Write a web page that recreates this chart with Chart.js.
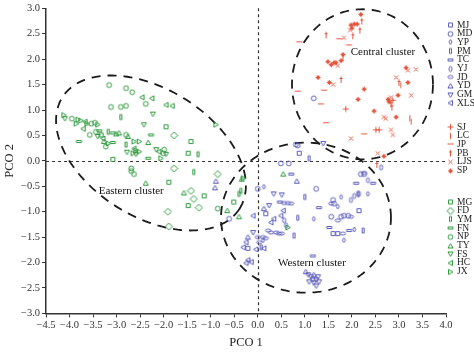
<!DOCTYPE html>
<html>
<head>
<meta charset="utf-8">
<script src="https://cdn.jsdelivr.net/npm/chart.js@4.4.0/dist/chart.umd.min.js"></script>
<style>
  html, body { margin: 0; padding: 0; background: #fff; }
</style>
</head>
<body>
<canvas id="pco" width="474" height="352"></canvas>
<script>
// Western cluster populations (blue)
const MJ  = [[0.88,0.15],[0.17,-1.04],[2.15,-0.98],[1.60,-1.43],[1.70,-1.43],[-0.21,-1.72]];
const MD  = [[0.85,0.30],[0.49,-0.05],[0.66,-0.05],[0.00,-0.55],[1.24,-0.55],[1.56,-1.10],[2.19,-0.26],[2.26,-0.26],[1.60,-0.77],[1.62,-0.84],[1.77,-1.10],[1.83,-1.08],[1.92,-1.08],[1.19,1.23],[0.81,0.32],[-0.61,-1.14]];
const YP  = [[0.13,-0.51],[1.19,-1.14],[1.83,-1.56],[1.77,-0.71],[1.70,-0.90],[2.34,-0.65],[0.11,-1.56],[2.05,-1.35]];
const PM  = [[1.00,-0.71],[0.85,-1.12],[0.77,-1.47],[1.09,0.05],[2.24,-1.37],[2.13,-0.65],[0.07,-1.70]];
const TC  = [[0.71,-0.26],[2.09,-0.44],[1.30,-0.92],[1.52,-1.31],[1.94,-1.37],[1.17,-1.87],[0.47,-0.81],[2.45,-0.44]];
const YJ  = [[1.98,-0.77],[2.05,-0.69],[2.15,-0.65],[0.56,-1.17],[0.60,-1.27],[2.34,-0.38],[2.62,-0.13]];
const JD  = [[0.56,-0.83],[0.64,-0.83],[0.71,-0.84],[1.56,-0.84],[1.70,-1.17],[1.98,-1.10],[1.81,-1.43],[0.22,-1.37],[0.28,-1.41],[0.39,-1.41],[0.45,-1.43],[0.51,-1.43],[0.00,-1.50],[0.11,-1.50],[0.17,-1.52],[0.03,-1.60],[2.26,-0.24]];
const YD  = [[0.83,-0.40],[0.13,-0.94],[-0.21,-1.50],[-0.91,-0.53],[1.02,-2.18],[-0.89,-0.40],[1.19,-2.24]];
const GM  = [[0.34,-0.65],[0.51,-0.67],[0.24,-0.88],[1.39,0.34],[1.07,-2.24],[1.13,-2.28],[1.28,-2.28],[1.24,-2.34],[1.17,-2.34],[1.30,-2.38],[1.19,-2.40],[1.09,-2.38],[1.24,-2.46],[-0.10,-1.41]];
const XLS = [[-0.10,-1.08],[0.34,-1.14],[0.28,-1.21],[-0.31,-1.70],[-0.21,-1.95],[-0.14,-1.99],[-0.25,-2.01],[0.13,-1.72],[-0.04,-1.74],[0.54,-0.98],[0.49,-1.08],[-0.25,-1.60]];

// Central cluster populations (red)
const SJ  = [[1.87,1.02],[2.51,0.61],[2.58,0.61],[2.87,1.19]];
const LC  = [[3.23,0.84],[3.26,0.77],[3.04,1.49],[1.81,2.03]];
const JP  = [[0.88,2.34],[0.85,1.37],[1.41,1.39],[1.34,1.12],[1.45,0.75],[2.26,0.53],[1.94,2.28],[1.73,2.40]];
const PB  = [[1.45,2.48],[2.17,2.57],[2.02,2.46],[1.77,1.60],[3.00,1.54],[2.83,1.12],[2.85,1.06],[2.53,-0.07],[2.21,2.75]];
const LJS = [[1.60,1.50],[1.98,0.44],[2.83,0.61],[2.87,0.51],[2.55,0.15],[2.68,0.86],[2.72,0.83],[2.94,1.64],[3.19,1.78],[3.36,1.80],[3.26,1.29],[2.83,1.25],[1.83,2.42],[1.96,2.57],[1.70,1.87]];
const SP  = [[2.19,2.88],[1.98,2.67],[2.05,2.69],[2.11,2.69],[2.00,2.61],[1.81,2.09],[1.77,1.97],[1.66,1.93],[1.49,1.95],[1.56,1.89],[1.62,1.93],[1.28,1.64],[1.52,1.54],[2.26,1.41],[2.13,1.21],[2.47,0.98],[2.94,0.86],[2.98,1.29],[3.19,1.54],[2.68,0.09],[3.15,1.83],[2.77,1.21],[2.79,1.16]];

// Eastern cluster populations (green)
const MG  = [[-1.95,0.67],[-1.42,0.38],[-1.48,0.15],[-1.89,-0.42],[-1.14,-0.69],[-1.48,-0.88],[-3.08,0.03],[-0.51,-0.81],[-3.33,0.51]];
const FD  = [[-1.78,0.50],[-1.78,-0.15],[-1.42,-0.59],[-1.36,-0.75],[-1.25,-0.92],[-1.91,-1.00],[-1.89,-1.29],[-0.85,-0.26]];
const YM  = [[-1.27,0.13],[-1.36,-0.22],[-2.91,0.86],[-0.40,-0.65],[-0.36,-0.59],[-3.18,0.57],[-2.80,0.32]];
const FN  = [[-3.80,0.38],[-2.27,0.51],[-3.37,0.59],[-3.08,0.55],[-2.33,0.05],[-3.08,0.36]];
const NP  = [[-3.16,1.49],[-2.80,1.43],[-2.38,1.12],[-3.12,1.06],[-2.91,1.06],[-2.80,1.08],[-2.69,-0.15],[-2.69,-0.20],[-2.63,-0.26],[-3.95,0.83],[-3.54,0.73],[-3.46,0.75],[-3.23,0.28],[-1.99,0.22],[-2.01,0.15],[-3.57,0.51],[-3.44,0.57],[-2.80,0.51],[-2.67,1.35],[-0.85,-0.94]];
const TY  = [[-2.33,0.36],[-2.38,-0.44],[-1.57,-0.63],[-0.65,-0.98],[-0.34,-0.36],[-0.40,-1.10],[0.54,-0.26],[-3.01,0.53],[-2.95,0.55],[-3.27,0.38],[-2.76,0.48]];
const FS  = [[-2.23,0.92],[-2.42,0.71],[-2.78,0.17],[-2.16,0.22],[-4.10,0.83],[-2.59,0.13],[-1.95,0.13],[-3.40,0.48]];
const HC  = [[-2.46,1.25],[-2.25,1.23],[-1.95,1.10],[-1.82,1.08],[-3.67,0.77],[-3.71,0.63],[-2.10,0.18],[-2.63,0.24],[-3.29,0.44]];
const JX  = [[-0.89,0.71],[-4.12,0.90],[-3.82,0.81],[-3.76,0.79],[-3.63,0.73],[-3.40,0.71],[-3.18,0.34],[-2.52,0.38],[-2.63,0.38],[-2.59,0.20],[-2.52,0.18],[-2.65,0.15],[-2.06,0.05],[-0.31,-0.34],[0.64,-1.31],[-3.86,0.73]];

const BLUE = '#5c5cba', RED = '#e2563e', GREEN = '#2f9a3e';

// cluster outlines: centre + two half axes, in data units
const ellipses = [
  {cx: -2.27, cy: 0.155, ux: 1.876, uy: -1.105, vx: -0.742, vy: -1.050},
  {cx: 1.024, cy: -1.117, ux: 1.806, uy: 0, vx: 0, vy: 1.476},
  {cx: 2.225, cy: 1.505, ux: 1.498, uy: 0, vx: 0, vy: 1.476}
];
const clusterNames = [
  {text: 'Central cluster', x: 2.66, y: 2.13},
  {text: 'Eastern cluster', x: -2.69, y: -0.59},
  {text: 'Western cluster', x: 1.15, y: -2.01}
];

function makeIcon(shape, color) {
  const c = document.createElement('canvas');
  c.width = 9; c.height = 9;
  const g = c.getContext('2d');
  g.strokeStyle = color;
  g.lineWidth = 1;
  g.beginPath();
  switch (shape) {
    case 'square': g.rect(2.5, 2.5, 4, 4); break;
    case 'circle': g.arc(4.5, 4.5, 2.4, 0, Math.PI * 2); break;
    case 'sdiamond':
      g.moveTo(4.5, 2); g.lineTo(6, 4.5); g.lineTo(4.5, 7); g.lineTo(3, 4.5); g.closePath(); break;
    case 'diamond':
      g.moveTo(4.5, 1); g.lineTo(8, 4.5); g.lineTo(4.5, 8); g.lineTo(1, 4.5); g.closePath(); break;
    case 'vrect': g.rect(3.5, 2, 2, 5); break;
    case 'hrect': g.rect(2, 3.5, 5, 2); break;
    case 'vell': g.ellipse(4.5, 4.5, 1.5, 2.6, 0, 0, Math.PI * 2); break;
    case 'hell': g.ellipse(4.5, 4.5, 2.7, 1.5, 0, 0, Math.PI * 2); break;
    case 'triU': g.moveTo(4.5, 2); g.lineTo(7, 6.5); g.lineTo(2, 6.5); g.closePath(); break;
    case 'triD': g.moveTo(4.5, 7); g.lineTo(7, 2.5); g.lineTo(2, 2.5); g.closePath(); break;
    case 'triL': g.moveTo(2, 4.5); g.lineTo(6.5, 2); g.lineTo(6.5, 7); g.closePath(); break;
    case 'triR': g.moveTo(7, 4.5); g.lineTo(2.5, 2); g.lineTo(2.5, 7); g.closePath(); break;
    case 'plus': g.moveTo(4.5, 1.5); g.lineTo(4.5, 7.5); g.moveTo(1.5, 4.5); g.lineTo(7.5, 4.5); break;
    case 'vline': g.moveTo(4.5, 1.5); g.lineTo(4.5, 7.5); break;
    case 'hline': g.moveTo(1.5, 4.5); g.lineTo(7.5, 4.5); break;
    case 'dagger': g.moveTo(4.5, 1.5); g.lineTo(4.5, 8); g.moveTo(3, 3.5); g.lineTo(6, 3.5); break;
    case 'cross': g.moveTo(2.5, 2.5); g.lineTo(6.5, 6.5); g.moveTo(6.5, 2.5); g.lineTo(2.5, 6.5); break;
    case 'star':
      g.moveTo(4.5, 2); g.lineTo(4.5, 7); g.moveTo(2, 4.5); g.lineTo(7, 4.5);
      g.moveTo(2.8, 2.8); g.lineTo(6.2, 6.2); g.moveTo(6.2, 2.8); g.lineTo(2.8, 6.2); break;
  }
  g.stroke();
  return c;
}

const groups = [
  {color: BLUE, top: 25, items: [
    ['MJ', MJ, 'square'], ['MD', MD, 'circle'], ['YP', YP, 'sdiamond'], ['PM', PM, 'vrect'],
    ['TC', TC, 'hrect'], ['YJ', YJ, 'vell'], ['JD', JD, 'hell'], ['YD', YD, 'triU'],
    ['GM', GM, 'triD'], ['XLS', XLS, 'triL']]},
  {color: RED, top: 127, items: [
    ['SJ', SJ, 'plus'], ['LC', LC, 'vline'], ['JP', JP, 'hline'], ['PB', PB, 'dagger'],
    ['LJS', LJS, 'cross'], ['SP', SP, 'star']]},
  {color: GREEN, top: 202, items: [
    ['MG', MG, 'square'], ['FD', FD, 'diamond'], ['YM', YM, 'vrect'], ['FN', FN, 'hrect'],
    ['NP', NP, 'circle'], ['TY', TY, 'triU'], ['FS', FS, 'triD'], ['HC', HC, 'triL'], ['JX', JX, 'triR']]}
];

const datasets = [];
groups.forEach(gr => {
  gr.items.forEach(([label, pts, shape]) => {
    datasets.push({
      label: label,
      data: pts.map(p => ({x: p[0], y: p[1]})),
      pointStyle: makeIcon(shape, gr.color),
      pointRadius: 3,
      borderColor: gr.color,
      backgroundColor: gr.color
    });
  });
});

const serif = '"Liberation Serif", "DejaVu Serif", serif';

const overlay = {
  id: 'overlay',
  beforeDatasetsDraw(chart) {
    const {ctx, chartArea: a} = chart;
    const x = chart.scales.x, y = chart.scales.y;
    ctx.save();
    // zero lines
    ctx.strokeStyle = '#333';
    ctx.lineWidth = 1.2;
    ctx.setLineDash([3, 3]);
    const x0 = Math.round(x.getPixelForValue(0)) + 0.5;
    const y0 = Math.round(y.getPixelForValue(0)) + 0.5;
    ctx.beginPath();
    ctx.moveTo(a.left, y0); ctx.lineTo(a.right, y0);
    ctx.moveTo(x0, a.top); ctx.lineTo(x0, a.bottom);
    ctx.stroke();

    // dashed cluster ellipses
    ctx.strokeStyle = '#1a1a1a';
    ctx.lineWidth = 1.8;
    ctx.setLineDash([9, 7]);
    ellipses.forEach(e => {
      ctx.beginPath();
      for (let i = 0; i <= 180; i++) {
        const t = i / 180 * Math.PI * 2;
        const px = x.getPixelForValue(e.cx + e.ux * Math.cos(t) + e.vx * Math.sin(t));
        const py = y.getPixelForValue(e.cy + e.uy * Math.cos(t) + e.vy * Math.sin(t));
        if (i === 0) ctx.moveTo(px, py); else ctx.lineTo(px, py);
      }
      ctx.stroke();
    });
    ctx.setLineDash([]);

    ctx.fillStyle = '#111';
    ctx.font = '11px ' + serif;
    ctx.textAlign = 'center';
    ctx.textBaseline = 'middle';
    clusterNames.forEach(n => {
      ctx.fillText(n.text, x.getPixelForValue(n.x), y.getPixelForValue(n.y));
    });
    ctx.restore();
  },
  afterDraw(chart) {
    // legend on the right, three groups
    const ctx = chart.ctx;
    ctx.save();
    ctx.font = '9.5px ' + serif;
    ctx.fillStyle = '#222';
    ctx.textAlign = 'left';
    ctx.textBaseline = 'middle';
    let di = 0;
    groups.forEach(gr => {
      gr.items.forEach((it, i) => {
        const yy = gr.top + i * 8.7;
        ctx.drawImage(chart.data.datasets[di].pointStyle, 446, Math.round(yy) - 4.5);
        ctx.fillText(it[0], 457, yy);
        di++;
      });
    });
    ctx.restore();
  }
};

const fmt = v => (v < 0 ? '\u2212' : '') + Math.abs(v).toFixed(1);

new Chart(document.getElementById('pco'), {
  type: 'scatter',
  data: {datasets: datasets},
  options: {
    responsive: false,
    animation: false,
    devicePixelRatio: 1,
    layout: {padding: {left: 2, right: 28, top: -3, bottom: 2}},
    plugins: {legend: {display: false}, tooltip: {enabled: false}},
    scales: {
      x: {
        min: -4.5, max: 4.0,
        grid: {display: true, drawOnChartArea: false, drawTicks: true, tickLength: 4, color: '#333'},
        border: {display: true, color: '#333', width: 1.5},
        ticks: {stepSize: 0.5, autoSkip: false, maxRotation: 0, padding: 2, color: '#333',
                font: {family: serif, size: 10.5}, callback: fmt},
        title: {display: true, text: 'PCO 1', color: '#222', font: {family: serif, size: 12.5}, padding: {top: 1, bottom: 0}}
      },
      y: {
        min: -3.0, max: 3.0,
        grid: {display: true, drawOnChartArea: false, drawTicks: true, tickLength: 4, color: '#333'},
        border: {display: true, color: '#333', width: 1.5},
        ticks: {stepSize: 0.5, autoSkip: false, padding: 2, color: '#333',
                font: {family: serif, size: 10.5}, callback: fmt},
        title: {display: true, text: 'PCO 2', color: '#222', font: {family: serif, size: 12.5}, padding: {top: 0, bottom: 2}}
      }
    }
  },
  plugins: [overlay]
});
</script>
</body>
</html>
